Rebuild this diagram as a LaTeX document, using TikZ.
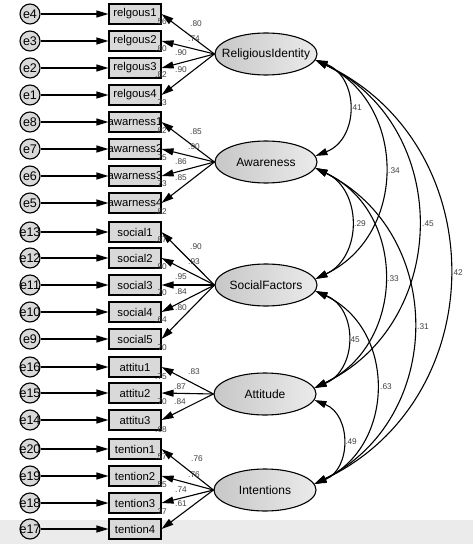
\documentclass[tikz,border=0pt]{standalone}
\usepackage{fontspec}
\setmainfont{Liberation Sans}
\usetikzlibrary{arrows.meta,shapes.geometric}
\begin{document}
\begin{tikzpicture}[x=1pt,y=-1pt,
  tip/.tip={Triangle[length=12pt,width=7pt]},
  arr/.style={line width=1.1pt, -tip},
  dbl/.style={line width=1.1pt, tip-tip},
  obs/.style={draw, line width=1.1pt, fill=black!15, minimum width=52pt, minimum height=20pt, inner sep=0pt, font=\fontsize{11.3}{13}\selectfont},
  err/.style={circle, draw, line width=1.1pt, fill=black!15, minimum size=20pt, inner sep=0pt, font=\fontsize{12.5}{14}\selectfont},
  lat/.style={ellipse, draw, line width=1.1pt, left color=black!22, right color=black!8, minimum width=102pt, minimum height=42pt, inner sep=0pt, font=\fontsize{12}{14}\selectfont},
  num/.style={font=\fontsize{8.3}{9}\selectfont, text=black!75, inner sep=0pt}
]
\useasboundingbox (0,0) rectangle (474,545);
\fill[black!8] (0,520) rectangle (473,544);

% observed variables and errors
\foreach \n/\e/\t/\y in {r1/e4/relgous1/14, r2/e3/relgous2/41, r3/e2/relgous3/68, r4/e1/relgous4/95,
  a1/e8/awarness1/122, a2/e7/awarness2/149, a3/e6/awarness3/176, a4/e5/awarness4/203,
  s1/e13/social1/232, s2/e12/social2/258, s3/e11/social3/285, s4/e10/social4/312, s5/e9/social5/339,
  t1/e16/attitu1/367, t2/e15/attitu2/393, t3/e14/attitu3/420,
  i1/e20/tention1/449, i2/e19/tention2/476, i3/e18/tention3/503, i4/e17/tention4/529}{
  \node[err] (\n e) at (30,\y) {\makebox[0pt]{\e}};
  \node[obs] (\n) at (135,\y) {\makebox[0pt]{\t}};
  \draw[arr] (\n e) -- (\n);
}

% latent variables
\node[lat] (RI) at (266,54) {\makebox[0pt]{ReligiousIdentity}};
\node[lat] (AW) at (266,162) {\makebox[0pt]{Awareness}};
\node[lat] (SF) at (266,285) {\makebox[0pt]{SocialFactors}};
\node[lat] (AT) at (265,394) {\makebox[0pt]{Attitude}};
\node[lat] (IN) at (265,490) {\makebox[0pt]{Intentions}};

% loadings
\foreach \b in {r1,r2,r3,r4} \draw[arr] (RI.west) -- (\b.east);
\foreach \b in {a1,a2,a3,a4} \draw[arr] (AW.west) -- (\b.east);
\foreach \b in {s1,s2,s3,s4,s5} \draw[arr] (SF.west) -- (\b.east);
\foreach \b in {t1,t2,t3} \draw[arr] (AT.west) -- (\b.east);
\foreach \b in {i1,i2,i3,i4} \draw[arr] (IN.west) -- (\b.east);

% covariances
\draw[dbl] (RI.-7) .. controls +(44,17) and +(44,-17) .. (AW.7);
\draw[dbl] (RI.-7) .. controls +(92,44) and +(92,-44) .. (SF.7);
\draw[dbl] (RI.-7) .. controls +(137,66) and +(137,-66) .. (AT.7);
\draw[dbl] (RI.-7) .. controls +(179,85) and +(179,-85) .. (IN.7);
\draw[dbl] (AW.-7) .. controls +(47,22) and +(47,-22) .. (SF.7);
\draw[dbl] (AW.-7) .. controls +(92,44) and +(92,-44) .. (AT.7);
\draw[dbl] (AW.-7) .. controls +(131,65) and +(131,-65) .. (IN.7);
\draw[dbl] (SF.-7) .. controls +(43,18) and +(43,-18) .. (AT.7);
\draw[dbl] (SF.-7) .. controls +(81,38) and +(81,-38) .. (IN.7);
\draw[dbl] (AT.-7) .. controls +(37,15) and +(37,-15) .. (IN.7);

% loading values
\foreach \v/\x/\y in {.80/196/24, .74/194/39, .90/181/53, .90/181/70,
  .85/196/132, .90/194/147, .86/181/162, .85/181/178,
  .90/196/247, .93/194/262, .95/181/277, .84/181/292, .80/181/308,
  .83/194/372, .87/180/387, .84/180/402,
  .76/197/459, .76/194/475, .74/181/490, .61/181/504}
  \node[num] at (\x,\y) {\v};

% squared multiple correlations
\foreach \v/\y in {.56/22, .80/49, .82/75, .73/103,
  .82/131, .75/158, .73/184, .82/212,
  .87/240, .90/267, .70/293, .64/320, .70/348,
  .75/377, .70/402, .68/430,
  .57/457, .55/485, .37/512}
  \node[num] at (161,\y) {\v};

% covariance values
\foreach \v/\x/\y in {.41/356/108, .34/394/171, .29/360/224, .45/428/224, .42/457/273,
  .33/393/279, .31/423/327, .45/354/340, .63/386/387, .49/351/442}
  \node[num] at (\x,\y) {\v};
\end{tikzpicture}
\end{document}
